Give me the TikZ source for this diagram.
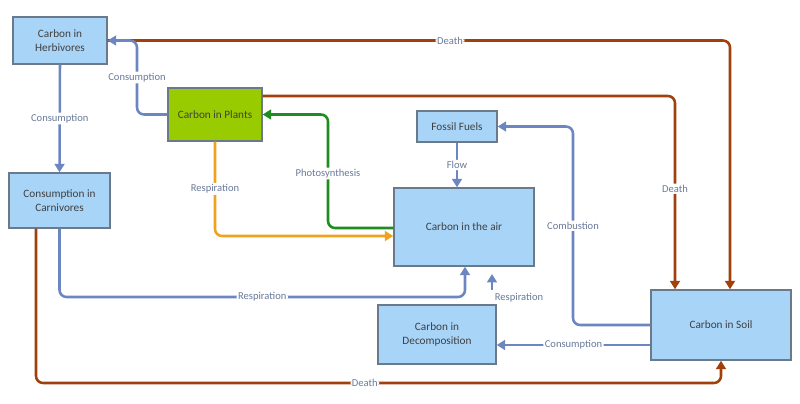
\documentclass[tikz,border=0pt]{standalone}
\usepackage{fontspec}
\setmainfont{Carlito}
\usetikzlibrary{arrows.meta}
\definecolor{boxfill}{HTML}{A8D4F8}
\definecolor{boxdraw}{HTML}{6A7A8A}
\definecolor{plant}{HTML}{99CC00}
\definecolor{eblue}{HTML}{6B86C0}
\definecolor{ebrown}{HTML}{A0400A}
\definecolor{eorange}{HTML}{F0A21E}
\definecolor{egreen}{HTML}{1E8C1E}
\definecolor{lbl}{HTML}{6A7A9A}
\begin{document}
\begin{tikzpicture}[x=0.025cm,y=-0.025cm,
  box/.style={draw=boxdraw,line width=1pt,fill=boxfill,minimum width=#1,inner sep=0pt,align=center,text=black!75,font=\fontsize{8}{9.5}\selectfont},
  e/.style={line width=1.8pt,rounded corners=5pt,-{Triangle[length=6pt,width=7pt]}},
  lab/.style={fill=white,inner sep=1pt,text=lbl,font=\fontsize{7.5}{8}\selectfont}]
\useasboundingbox (0,0) rectangle (800,403);
\node[box=94*0.025cm,minimum height=47*0.025cm] (herb) at (60,40.5) {Carbon in\\Herbivores};
\node[box=94*0.025cm,minimum height=53*0.025cm,fill=plant] (plant) at (215,114.5) {Carbon in Plants};
\node[box=101*0.025cm,minimum height=55*0.025cm] (carn) at (59.5,200.5) {Consumption in\\Carnivores};
\node[box=80*0.025cm,minimum height=31*0.025cm] (fossil) at (457,126.5) {Fossil Fuels};
\node[box=140*0.025cm,minimum height=78*0.025cm] (air) at (464,227) {Carbon in the air};
\node[box=118*0.025cm,minimum height=59*0.025cm] (dec) at (437,334.5) {Carbon in\\Decomposition};
\node[box=140*0.025cm,minimum height=70*0.025cm] (soil) at (721,325) {Carbon in Soil};
% death herbivores -> soil
\draw[e,ebrown] (herb.east) -- (730,40.5) node[lab,pos=0.55]{Death} -- (soil.north -| 730,0);
% consumption plants -> herbivores
\draw[e,eblue] (plant.west) -- (137,114.5) -- node[lab,pos=0.5]{Consumption} (137,40.5) -- (herb.east);
% death plants -> soil
\draw[e,ebrown] (plant.east |- 0,96) -- (675,96) -- node[lab,pos=0.48]{Death} (soil.north -| 675,0);
% consumption herb -> carn
\draw[e,eblue] (herb.south) -- node[lab,pos=0.5]{Consumption} (carn.north);
% respiration plants -> air
\draw[e,eorange] (plant.south) -- node[lab,pos=0.5]{Respiration} (215,236) -- (air.west |- 0,236);
% photosynthesis air -> plants
\draw[e,egreen] (air.west |- 0,228) -- (328,228) -- node[lab,pos=0.48]{Photosynthesis} (328,114.5) -- (plant.east);
% flow
\draw[e,eblue] (fossil.south) -- node[lab,pos=0.5]{Flow} (air.north -| fossil.south);
% combustion
\draw[e,eblue] (soil.west) -- (573,325) -- node[lab,pos=0.5]{Combustion} (573,126.5) -- (fossil.east);
% respiration carn -> air
\draw[e,eblue] (carn.south) -- (59.5,297) -- node[lab,pos=0.5]{Respiration} (465,297) -- (air.south -| 465,0);
% death carn -> soil
\draw[e,ebrown] (carn.south -| 36,0) -- (36,383) -- node[lab,pos=0.48]{Death} (721,383) -- (soil.south);
% consumption soil -> decomp
\draw[e,eblue] (soil.west |- 0,345) -- node[lab,pos=0.5]{Consumption} (dec.east |- 0,345);
% respiration decomp -> air
\node[lab] (reslab) at (519,298) {Respiration};
\coordinate (resfoot) at (492,290);
\draw[e,eblue] (resfoot) -- (492,274);
\end{tikzpicture}
\end{document}
